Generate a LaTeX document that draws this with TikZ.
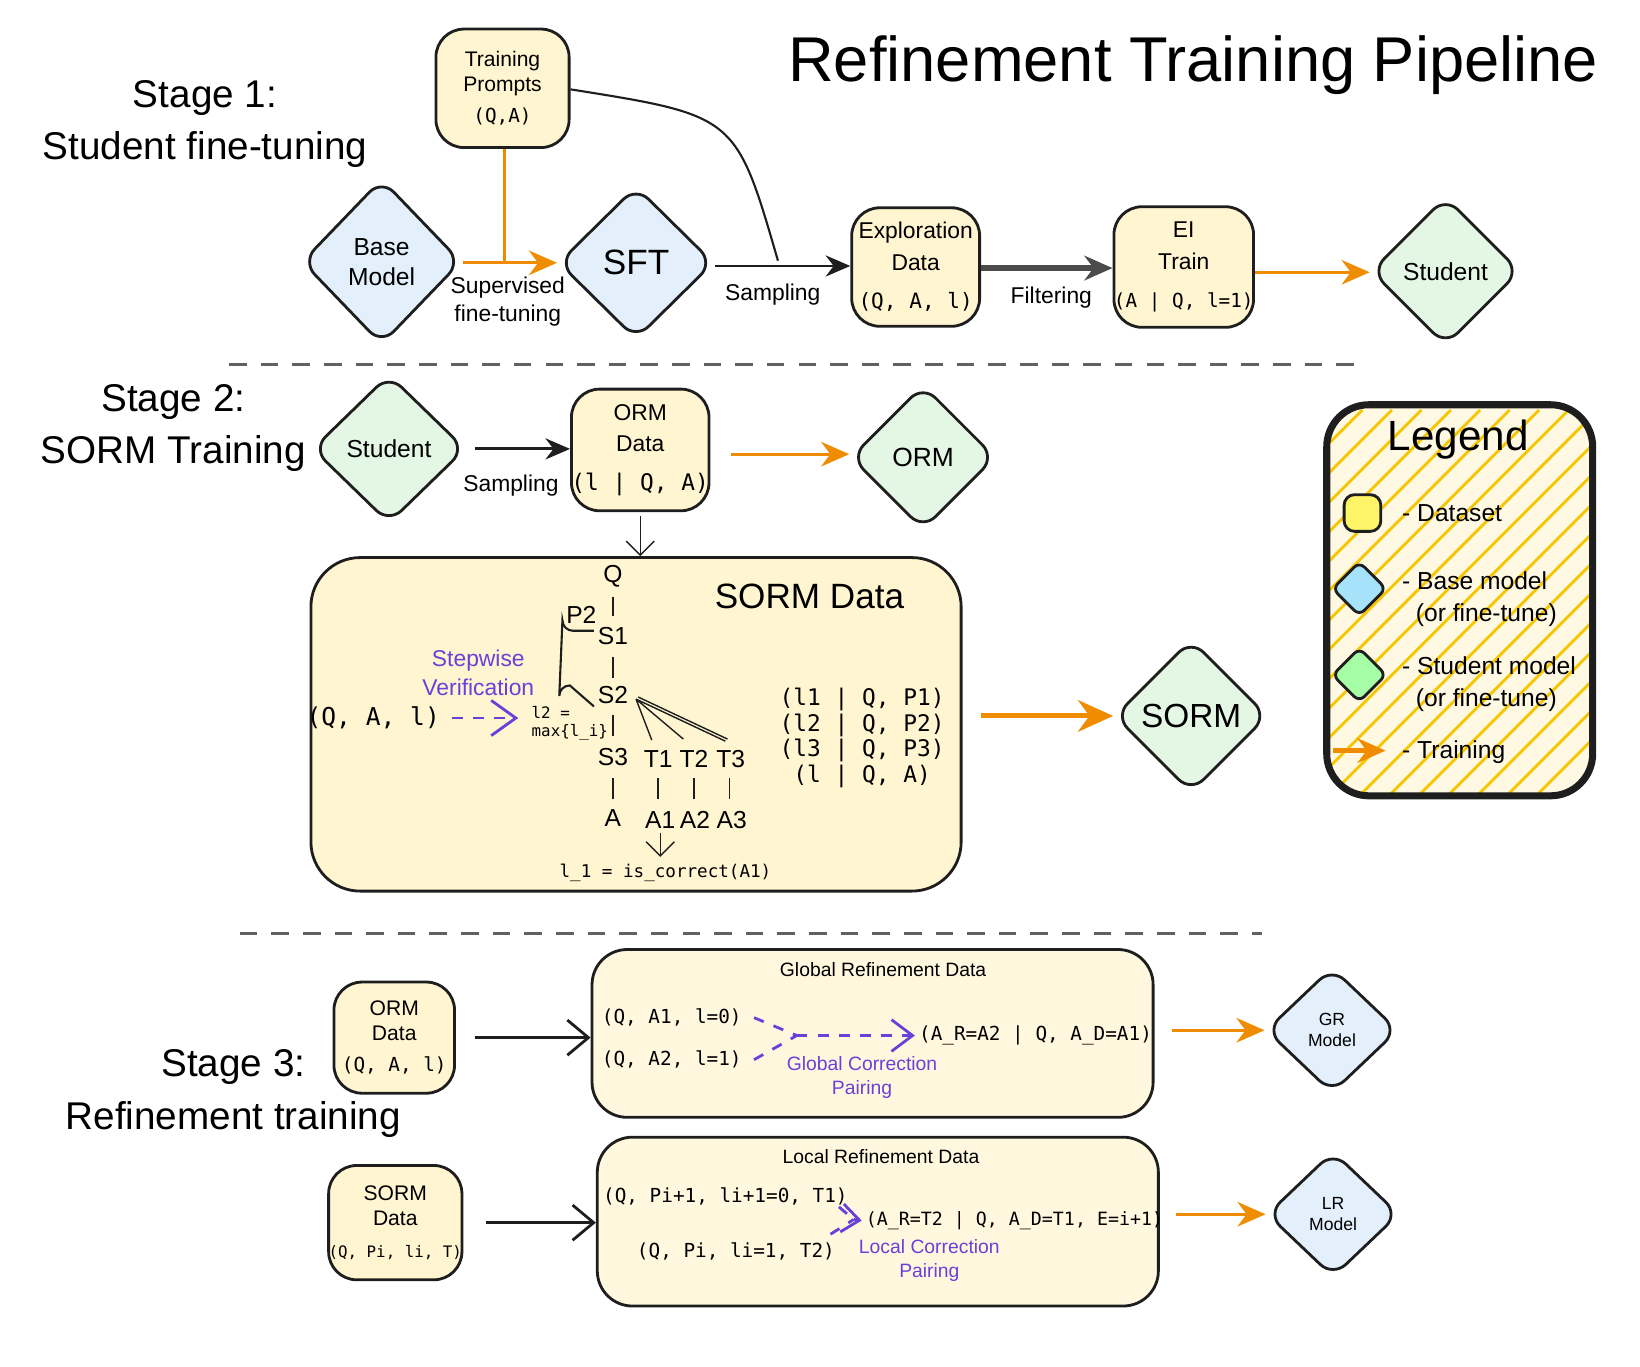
\documentclass[tikz,border=0pt]{standalone}
\usepackage{fontspec}
\setmainfont{Liberation Sans}
\setmonofont{DejaVu Sans Mono}
\usetikzlibrary{shapes.geometric,arrows.meta,patterns}
\definecolor{ink}{HTML}{1E1E1E}
\definecolor{dsfill}{HTML}{FFF5D1}
\definecolor{bmfill}{HTML}{E3F0FC}
\definecolor{stfill}{HTML}{E4F6E4}
\definecolor{orng}{HTML}{F08C00}
\definecolor{purp}{HTML}{6741D9}
\def\pxu{0.2984pt}
\begin{document}
\begin{tikzpicture}[x=0.010513cm,y=-0.010513cm,
  font=\fontsize{6}{7}\selectfont,
  ds/.style={draw=ink, fill=dsfill, rounded corners=8pt, thick, align=center, inner sep=0pt},
  dia/.style={diamond, draw=ink, thick, rounded corners=5pt, inner sep=0pt, align=center},
  bm/.style={dia, fill=bmfill},
  st/.style={dia, fill=stfill},
  arr/.style={-{Stealth[length=7pt,width=6pt]}, ink, thick},
  oarr/.style={-{Stealth[length=8pt,width=7pt]}, orng, thick},
  lbl/.style={font=\fontsize{6.5}{8}\selectfont, align=center},
  stage/.style={font=\fontsize{11}{15}\selectfont, align=center},
  mono/.style={font=\ttfamily\fontsize{6}{7}\selectfont, align=center},
  pdash/.style={purp, thick, dashed},
  sep/.style={ink!70, thick, dash pattern=on 5pt off 4pt}
]
\useasboundingbox (0,0) rectangle (1560,1300);

% Title
\node[font=\fontsize{18}{22}\selectfont] (title) at (1135,62) {Refinement Training Pipeline};

% ---- Stage 1
\node[stage] (s1) at (195,118) {Stage 1:\\Student fine-tuning};
\node[ds, minimum width=127*\pxu, minimum height=113*\pxu] (prompts) at (478,84) {Training\\Prompts\\[2pt]{\ttfamily\fontsize{5.5}{7}\selectfont (Q,A)}};
\node[bm, minimum width=152*\pxu, minimum height=158*\pxu, font=\fontsize{7}{8.5}\selectfont] (base) at (363,249) {Base\\Model};
\node[bm, minimum width=148*\pxu, minimum height=146*\pxu, font=\fontsize{10}{12}\selectfont] (sft) at (605,250) {SFT};
\node[ds, minimum width=122*\pxu, minimum height=113*\pxu, font=\fontsize{6.5}{9}\selectfont] (expl) at (871,254) {Exploration\\Data\\[2pt]{\ttfamily\fontsize{6}{8}\selectfont (Q, A, l)}};
\node[ds, minimum width=127*\pxu, minimum height=115*\pxu, font=\fontsize{6.5}{9}\selectfont] (ei) at (1126,254) {EI\\Train\\[2pt]{\ttfamily\fontsize{5.5}{8}\selectfont (A | Q, l=1)}};
\node[st, minimum width=142*\pxu, minimum height=142*\pxu, font=\fontsize{7}{9}\selectfont] (stud1) at (1375,258) {Student};

\coordinate (pjoin) at (480,250);
\draw[orng, thick] (prompts.south -| pjoin) -- (pjoin);
\draw[oarr] (base.east |- pjoin) -- (sft.west |- pjoin);
\node[lbl] (sftlbl) at (483,287) {Supervised\\fine-tuning};
\coordinate (curveend) at (740,248);
\draw[ink, semithick] (prompts.east |- 0,85) .. controls (700,110) .. (curveend);
\draw[arr] (sft.east |- 0,253) -- (expl.west |- 0,253);
\node[lbl] (samp1) at (735,280) {Sampling};
\draw[-{Stealth[length=8pt,width=7pt]}, ink!80, line width=1.6pt] (expl.east |- 0,255) -- (ei.west |- 0,255);
\node[lbl] (filt) at (1000,283) {Filtering};
\draw[oarr] (ei.east |- 0,259) -- (stud1.west |- 0,259);

\draw[sep] (218,347) -- (1300,347);

% ---- Stage 2
\node[stage] (s2) at (165,407) {Stage 2:\\SORM Training};
\node[st, minimum width=146*\pxu, minimum height=142*\pxu, font=\fontsize{7}{9}\selectfont] (stud2) at (370,427) {Student};
\node[ds, minimum width=128*\pxu, minimum height=116*\pxu, font=\fontsize{6.5}{9}\selectfont] (orm) at (609,428) {ORM\\Data\\[2pt]{\ttfamily\fontsize{6.5}{8}\selectfont (l | Q, A)}};
\node[st, minimum width=138*\pxu, minimum height=138*\pxu, font=\fontsize{7.5}{9}\selectfont] (ormm) at (878,435) {ORM};
\draw[arr] (stud2.east |- 0,427) ++(8,0) -- (orm.west |- 0,427);
\node[lbl] (samp2) at (486,462) {Sampling};
\draw[oarr] (orm.east |- 0,432) ++(20,0) -- (ormm.west |- 0,432);

\node[draw=ink, fill=dsfill, thick, rounded corners=14pt, minimum width=620*\pxu, minimum height=318*\pxu] (sorm) at (605,689) {};
\draw[-{Straight Barb[length=4pt]}, ink] (orm.south) ++(0,4) -- (sorm.north -| orm.south);
\node[font=\fontsize{10}{12}\selectfont] (sormt) at (770,567) {SORM Data};

\begin{scope}[font=\fontsize{7}{8}\selectfont, inner sep=1pt]
\node (q) at (583,548) {Q};
\node (p2) at (553,585) {P2};
\node (sa) at (583,605) {S1};
\node (sb) at (583,661) {S2};
\node (sc) at (583,720) {S3};
\node (ta) at (626,722) {T1};
\node (tb) at (660,722) {T2};
\node (tc) at (695,722) {T3};
\node (aa) at (583,778) {A};
\node (a1) at (628,780) {A1};
\node (a2) at (661,780) {A2};
\node (a3) at (696,780) {A3};
\end{scope}
\draw[ink] (583,568) -- (583,586) (583,625) -- (583,645) (583,680) -- (583,700);
\draw[ink] (583,740) -- (583,760) (626,740) -- (626,760) (660,740) -- (660,760) (694,740) -- (694,760);
\draw[ink, semithick] (565,600) -- (545,600) arc (90:180:10) -- (532,662) arc (180:270:10) -- (565,672);
\draw[ink] (605,665) -- (620,704) (605,665) -- (650,703) (605,665) -- (690,705) (607,663) -- (692,703);
\node[mono, font=\ttfamily\fontsize{4.5}{5}\selectfont, align=left] (l2) at (542,688) {l2 =\\max\{l\_i\}};
\draw[-{Straight Barb[length=4pt]}, ink] (a1.south) -- (628,815);
\node[mono, font=\ttfamily\fontsize{5}{6}\selectfont] (iscorr) at (633,830) {l\_1 = is\_correct(A1)};
\node[lbl, text=purp, font=\fontsize{6.5}{8}\selectfont] (stepv) at (455,640) {Stepwise\\Verification};
\node[mono, font=\ttfamily\fontsize{7}{8}\selectfont] (qal) at (355,683) {(Q, A, l)};
\draw[pdash, -{Straight Barb[length=7pt,width=10pt]}] (qal.east) -- (493,683);
\node[mono, font=\ttfamily\fontsize{6.5}{7.3}\selectfont] (tuples) at (820,702) {(l1 | Q, P1)\\(l2 | Q, P2)\\(l3 | Q, P3)\\(l | Q, A)};
\node[dia, fill=stfill, minimum width=146*\pxu, minimum height=146*\pxu, font=\fontsize{9.5}{11}\selectfont] (sormm) at (1133,681) {SORM};
\draw[-{Stealth[length=10pt,width=9pt]}, orng, line width=1.4pt] (sorm.east |- 0,681) ++(18,0) -- (sormm.west);

% ---- Legend
\begin{scope}
\clip[rounded corners=12pt] (1263,386) rectangle (1514,756);
\fill[dsfill!60] (1263,386) rectangle (1514,756);
\foreach \i in {0,28,...,700} \draw[orng!50!yellow, thick] (1240+\i-400,790) -- (1240+\i,390);
\end{scope}
\draw[ink, line width=2pt, rounded corners=12pt] (1262,385) rectangle (1515,757);
\node[font=\fontsize{12}{14}\selectfont] (legt) at (1387,418) {Legend};
\node[draw=ink, thick, fill=yellow!50!dsfill, rounded corners=3pt, minimum size=35*\pxu] (ld) at (1296,488) {};
\node[font=\fontsize{7}{9}\selectfont, anchor=west] (ldt) at (1322,488) {- Dataset};
\node[dia, fill=cyan!35, minimum size=52*\pxu, rounded corners=2pt] (lb) at (1293,560) {};
\node[font=\fontsize{7}{9}\selectfont, align=left, anchor=west] (lbt) at (1322,570) {- Base model\\\ \ (or fine-tune)};
\node[dia, fill=green!35, minimum size=52*\pxu, rounded corners=2pt] (lst) at (1293,642) {};
\node[font=\fontsize{7}{9}\selectfont, align=left, anchor=west] (lstt) at (1322,651) {- Student model\\\ \ (or fine-tune)};
\coordinate (lt0) at (1268,714);
\coordinate (lt1) at (1318,714);
\draw[oarr, line width=1.4pt] (lt0) -- (lt1);
\node[font=\fontsize{7}{9}\selectfont, anchor=west] (ltt) at (1322,715) {- Training};

\draw[sep] (228,888) -- (1200,888);

% ---- Stage 3
\node[stage] (s3) at (222,1040) {Stage 3:\\Refinement training};
\node[ds, minimum width=115*\pxu, minimum height=106*\pxu] (orm3) at (375,987) {ORM\\Data\\[2pt]{\ttfamily\fontsize{5.5}{7}\selectfont (Q, A, l)}};
\node[ds, minimum width=122*\pxu, minimum height=109*\pxu] (sorm3) at (376,1163) {SORM\\Data\\[2pt]{\ttfamily\fontsize{4.5}{7}\selectfont (Q, Pi, li, T)}};
\node[draw=ink, thick, fill=dsfill!70, rounded corners=10pt, minimum width=535*\pxu, minimum height=160*\pxu] (glob) at (830,983) {};
\node[draw=ink, thick, fill=dsfill!70, rounded corners=10pt, minimum width=535*\pxu, minimum height=161*\pxu] (loc) at (835,1162) {};
\draw[-{Straight Barb[length=6pt,width=10pt]}, ink, thick] (orm3.east) ++(18,0) -- (glob.west |- orm3.east);
\draw[-{Straight Barb[length=6pt,width=10pt]}, ink, thick] (sorm3.east) ++(22,0) -- (loc.west |- sorm3.east);

\node[font=\fontsize{5.5}{7}\selectfont] (globt) at (840,922) {Global Refinement Data};
\node[mono, font=\ttfamily\fontsize{5.5}{7}\selectfont] (g1) at (639,968) {(Q, A1, l=0)};
\node[mono, font=\ttfamily\fontsize{5.5}{7}\selectfont] (g2) at (639,1008) {(Q, A2, l=1)};
\coordinate (gj) at (758,985);
\node[mono, font=\ttfamily\fontsize{5.5}{7}\selectfont, inner sep=1pt] (gr) at (985,985) {(A\_R=A2 | Q, A\_D=A1)};
\draw[pdash] (g1.east) -- (gj) (g2.east) -- (gj);
\draw[pdash, -{Straight Barb[length=6pt,width=9pt]}] (gj) -- (gr.west);
\node[lbl, text=purp, font=\fontsize{5.5}{7}\selectfont] (gcp) at (820,1025) {Global Correction\\Pairing};
\node[bm, minimum width=126*\pxu, minimum height=120*\pxu, font=\fontsize{5}{6}\selectfont] (grm) at (1267,980) {GR\\Model};
\draw[oarr] (glob.east |- 0,980) ++(17,0) -- (grm.west);

\node[font=\fontsize{5.5}{7}\selectfont] (loct) at (838,1100) {Local Refinement Data};
\node[mono, font=\ttfamily\fontsize{5.5}{7}\selectfont] (l1) at (690,1138) {(Q, Pi+1, li+1=0, T1)};
\node[mono, font=\ttfamily\fontsize{5.5}{7}\selectfont] (l2b) at (700,1190) {(Q, Pi, li=1, T2)};
\coordinate (lj) at (812,1160);
\coordinate (lja) at (798,1148);
\coordinate (ljb) at (790,1174);
\node[mono, font=\ttfamily\fontsize{5.2}{7}\selectfont, inner sep=1pt] (lr) at (965,1161) {(A\_R=T2 | Q, A\_D=T1, E=i+1)};
\draw[pdash] (lja) -- (lj) (ljb) -- (lj);
\draw[pdash, -{Straight Barb[length=5pt,width=8pt]}] (lj) -- (lr.west);
\node[lbl, text=purp, font=\fontsize{5.5}{7}\selectfont] (lcp) at (884,1199) {Local Correction\\Pairing};
\node[bm, minimum width=126*\pxu, minimum height=120*\pxu, font=\fontsize{5}{6}\selectfont] (lrm) at (1268,1155) {LR\\Model};
\draw[oarr] (loc.east |- 0,1155) ++(15,0) -- (lrm.west);
\end{tikzpicture}
\end{document}
